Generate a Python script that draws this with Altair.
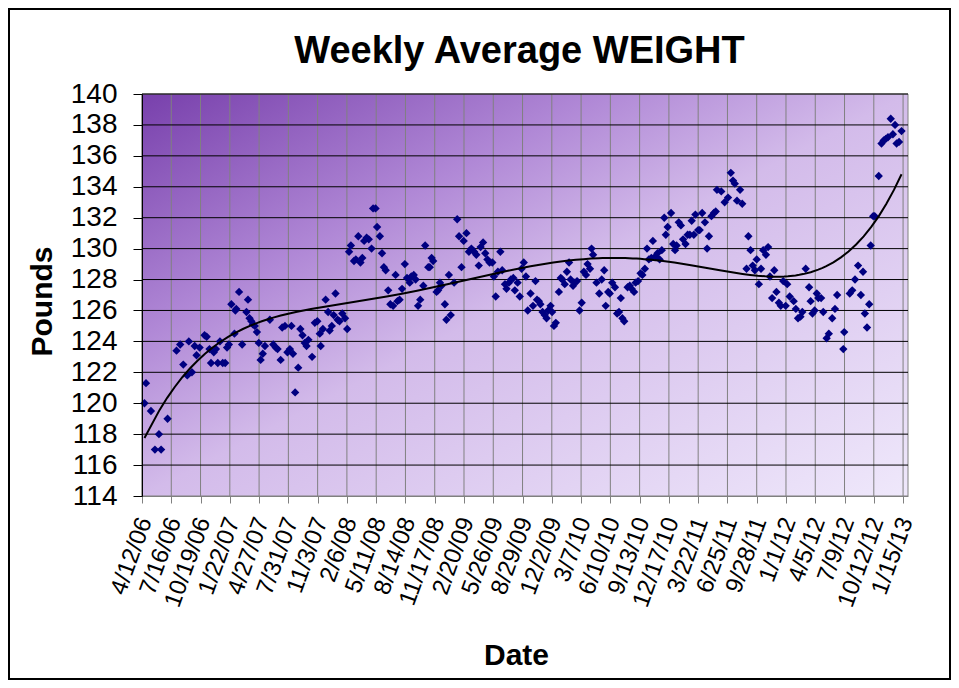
import altair as alt
import pandas as pd

# ---- data (days since 4/12/06, weekly average pounds) ----
DAYS = [8, 13, 29, 42, 55, 62, 83, 112, 124, 134, 147, 152, 162, 171, 177, 187, 203, 210, 219, 224,
        233, 240, 246, 253, 262, 270, 276, 282, 290, 300, 303, 306, 315, 325, 339, 344, 349, 355, 360, 366,
        373, 379, 385, 392, 399, 415, 426, 434, 440, 450, 455, 464, 472, 480, 485, 490, 497, 507, 514, 521,
        528, 534, 540, 552, 561, 569, 577, 580, 587, 596, 604, 609, 616, 622, 628, 635, 641, 650, 659, 666,
        672, 678, 688, 694, 702, 709, 715, 721, 729, 736, 745, 750, 758, 763, 772, 779, 785, 791, 799, 806,
        815, 823, 829, 836, 844, 853, 860, 869, 874, 882, 888, 896, 903, 913, 919, 929, 934, 940, 945, 956,
        961, 967, 972, 983, 988, 996, 1002, 1013, 1023, 1029, 1037, 1044, 1053, 1061, 1069, 1078, 1085, 1093, 1099, 1107,
        1114, 1121, 1128, 1137, 1142, 1148, 1155, 1163, 1169, 1178, 1183, 1191, 1197, 1205, 1210, 1219, 1226, 1232, 1239, 1246,
        1252, 1261, 1269, 1277, 1282, 1288, 1293, 1300, 1307, 1313, 1318, 1326, 1331, 1337, 1343, 1353, 1359, 1364, 1372, 1379,
        1386, 1391, 1399, 1404, 1412, 1420, 1427, 1434, 1441, 1446, 1454, 1459, 1464, 1475, 1484, 1492, 1500, 1505, 1513, 1518,
        1526, 1535, 1542, 1548, 1554, 1559, 1565, 1576, 1583, 1589, 1597, 1602, 1610, 1618, 1624, 1632, 1639, 1645, 1653, 1658,
        1666, 1673, 1680, 1687, 1695, 1700, 1706, 1717, 1724, 1730, 1735, 1742, 1749, 1756, 1764, 1771, 1778, 1784, 1791, 1796,
        1805, 1810, 1818, 1827, 1834, 1840, 1848, 1856, 1862, 1866, 1880, 1891, 1902, 1911, 1918, 1924, 1931, 1941, 1948, 1962,
        1968, 1975, 1982, 1989, 1995, 2002, 2009, 2016, 2025, 2032, 2038, 2045, 2052, 2059, 2067, 2073, 2081, 2089, 2094, 2102,
        2115, 2122, 2129, 2137, 2143, 2154, 2165, 2170, 2176, 2183, 2190, 2195, 2204, 2211, 2222, 2229, 2240, 2249, 2256, 2276,
        2279, 2297, 2305, 2314, 2324, 2333, 2340, 2346, 2353, 2360, 2365, 2373, 2378, 2391, 2400, 2407, 2414, 2421, 2430, 2437,
        2444, 2449, 2457, 2465]

POUNDS = [120.0, 121.3, 119.5, 117.0, 118.0, 117.0, 119.0, 123.4, 123.8, 122.5, 121.8, 124.0, 122.0, 123.7, 123.1, 123.6, 124.4, 124.3, 123.5, 122.6,
          123.3, 123.5, 122.6, 124.0, 122.6, 122.6, 123.6, 123.8, 126.4, 124.5, 126.0, 126.1, 127.2, 123.8, 125.9, 126.7, 125.5, 125.3, 125.1, 125.0,
          124.6, 123.9, 122.8, 123.2, 123.7, 125.4, 123.8, 123.6, 123.5, 122.8, 124.9, 125.0, 123.3, 123.5, 125.0, 123.2, 120.7, 122.3, 124.8, 124.4,
          123.9, 123.7, 124.1, 123.0, 125.2, 125.3, 124.5, 123.7, 124.8, 126.7, 125.9, 124.7, 125.0, 125.7, 127.1, 125.4, 125.3, 125.8, 125.5, 124.8,
          129.8, 130.2, 129.2, 129.3, 130.8, 129.1, 129.4, 130.5, 130.7, 130.6, 130.0, 132.6, 132.6, 131.4, 130.8, 129.7, 128.8, 128.6, 127.3, 126.4,
          126.3, 128.3, 126.6, 126.7, 127.4, 129.0, 128.1, 127.8, 128.2, 128.3, 128.0, 126.3, 126.7, 127.6, 130.2, 128.8, 128.8, 129.4, 129.2, 127.2,
          127.3, 127.8, 127.6, 126.4, 125.4, 128.3, 125.7, 127.8, 131.9, 130.8, 128.8, 130.5, 131.0, 129.8, 130.0, 129.8, 129.6, 128.9, 130.1, 130.4,
          129.7, 129.3, 129.1, 129.1, 128.2, 126.9, 128.5, 129.8, 128.6, 127.7, 127.4, 127.8, 128.0, 128.1, 127.3, 127.8, 126.9, 128.7, 129.1, 128.2,
          126.0, 127.1, 126.3, 127.9, 126.7, 126.6, 126.4, 125.9, 125.7, 125.5, 126.0, 126.3, 125.9, 125.0, 125.2, 127.2, 128.1, 128.0, 127.7, 128.5,
          129.1, 128.0, 127.6, 127.8, 127.9, 126.0, 126.5, 128.5, 128.3, 129.0, 128.7, 130.0, 129.6, 127.8, 127.1, 128.0, 128.6, 126.3, 127.2, 127.1,
          127.8, 127.5, 125.8, 125.9, 126.8, 125.5, 125.3, 127.5, 127.6, 127.4, 127.2, 127.8, 127.9, 128.4, 128.3, 128.7, 130.0, 129.3, 129.4, 130.5,
          129.5, 129.7, 129.3, 129.9, 132.0, 130.9, 131.4, 132.3, 130.3, 129.9, 130.2, 131.7, 131.5, 130.6, 130.3, 130.9, 130.9, 131.8, 130.9, 132.2,
          131.2, 131.2, 132.3, 131.7, 130.0, 130.8, 132.1, 132.3, 132.4, 133.8, 133.7, 133.0, 133.3, 134.9, 134.4, 134.2, 133.1, 133.8, 132.9, 128.7,
          130.8, 129.9, 128.9, 128.6, 129.3, 127.7, 128.7, 129.9, 129.6, 130.1, 128.2, 126.8, 128.6, 127.2, 126.5, 126.3, 127.9, 126.3, 127.7, 126.9,
          126.6, 126.1, 125.5, 125.6, 125.9, 128.7, 127.5, 126.6, 125.8, 126.0, 127.1, 126.8, 126.8, 125.9, 124.2, 124.5, 125.5, 126.1, 127.0, 123.5,
          124.6, 127.1, 127.3, 128.0, 128.9, 127.0, 128.5, 125.8, 124.9, 126.4, 130.2, 132.1, 132.1, 134.7, 136.8, 137.0, 137.1, 137.2, 138.4, 137.4,
          138.0, 136.8, 136.9, 137.6]

DATE_LABELS = ["4/12/06", "7/16/06", "10/19/06", "1/22/07", "4/27/07", "7/31/07", "11/3/07", "2/6/08",
               "5/11/08", "8/14/08", "11/17/08", "2/20/09", "5/26/09", "8/29/09", "12/2/09", "3/7/10",
               "6/10/10", "9/13/10", "12/17/10", "3/22/11", "6/25/11", "9/28/11", "1/1/12", "4/5/12",
               "7/9/12", "10/12/12", "1/15/13"]
DATE_TICKS = [i * 95 for i in range(len(DATE_LABELS))]   # label spacing of the date axis (days)
POUND_TICKS = list(range(114, 141, 2))
X_DOMAIN = [0, 2486]
Y_DOMAIN = [114, 140]
TITLE = "Weekly Average WEIGHT"
TREND_ORDER = 5

FONT = "Liberation Sans"
W, H = 766, 402

df = pd.DataFrame({"day": DAYS, "value": POUNDS})
xt = pd.DataFrame({"tick": DATE_TICKS})
yt = pd.DataFrame({"v": POUND_TICKS})
one = pd.DataFrame({"label": [TITLE]})

xs = alt.Scale(domain=X_DOMAIN, nice=False, zero=False)
ys = alt.Scale(domain=Y_DOMAIN, nice=False, zero=False)

label_array = "[" + ",".join("'%s'" % s for s in DATE_LABELS) + "]"

x_axis = alt.Axis(
    values=DATE_TICKS, labelExpr=label_array + "[round(datum.value / 95)]",
    labelAngle=290, labelAlign="right", labelBaseline="middle", labelFontSize=24,
    labelFont=FONT, labelColor="black", labelPadding=15, labelOffset=3,
    labelOverlap=False, labelFlush=False, tickSize=7, tickColor="#808080",
    domainColor="#808080", grid=False, zindex=1,
    title="Date", titleFont=FONT, titleFontSize=30, titleFontWeight="bold",
    titleColor="black", titleX=374, titleY=168, titleAlign="center",
    titleBaseline="alphabetic", titleAngle=0)
y_axis = alt.Axis(
    values=POUND_TICKS, labelFontSize=28, labelFont=FONT, labelColor="black",
    labelPadding=16, tickSize=9, tickColor="black", domainColor="black",
    grid=False, zindex=1, labelOverlap=False,
    title="Pounds", titleFont=FONT, titleFontSize=30, titleFontWeight="bold",
    titleColor="black", titleAngle=270, titleX=-100, titleY=207,
    titleAlign="center", titleBaseline="middle")

gradient = {"gradient": "linear", "x1": 0, "y1": 0, "x2": 1, "y2": 1,
            "stops": [{"offset": 0, "color": "#7840AC"},
                      {"offset": 0.3, "color": "#B088D6"},
                      {"offset": 0.5, "color": "#D3BBEA"},
                      {"offset": 1, "color": "#EFE8FB"}]}

background = alt.Chart(one).mark_rect(fill=gradient, stroke="#808080", strokeWidth=1).encode(
    x=alt.value(0), x2=alt.value(W), y=alt.value(0), y2=alt.value(H))

vgrid = alt.Chart(xt).mark_rule(color="#808080", strokeWidth=1).encode(
    x=alt.X("tick:Q", scale=xs, axis=x_axis))

hgrid = alt.Chart(yt).mark_rule(color="black", strokeWidth=1).encode(
    y=alt.Y("v:Q", scale=ys, axis=y_axis)).transform_filter("datum.v > 114")

points = alt.Chart(df).mark_point(shape="diamond", filled=True, size=70, opacity=1,
                                  color="#000080").encode(
    x=alt.X("day:Q", scale=xs, axis=x_axis),
    y=alt.Y("value:Q", scale=ys, axis=y_axis))

trend = alt.Chart(df).transform_calculate(
    t="(datum.day - 1236) / 365"
).transform_regression(
    "t", "value", method="poly", order=TREND_ORDER
).transform_calculate(
    day="datum.t * 365 + 1236"
).mark_line(color="black", strokeWidth=2).encode(
    x=alt.X("day:Q", scale=xs, axis=x_axis),
    y=alt.Y("value:Q", scale=ys, axis=y_axis))

title = alt.Chart(one).mark_text(font=FONT, fontSize=38, fontWeight="bold", color="black",
                                 align="center", baseline="alphabetic").encode(
    x=alt.value(377.5), y=alt.value(-31), text="label:N")

border = alt.Chart(one).mark_rect(filled=False, stroke="black", strokeWidth=2).encode(
    x=alt.value(-133), x2=alt.value(808), y=alt.value(-85), y2=alt.value(585))

chart = alt.layer(background, vgrid, hgrid, points, trend, title, border).properties(
    width=W, height=H,
    autosize=alt.AutoSizeParams(type="none"),
    padding={"left": 134, "top": 86, "right": 43, "bottom": 184},
    background="white"
).configure_view(stroke=None)

chart.save("out.html", embed_options={"renderer": "svg", "actions": False})
